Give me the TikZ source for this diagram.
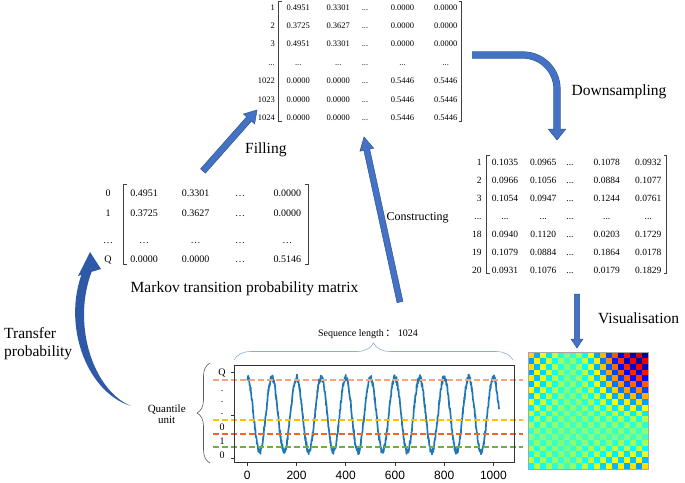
\documentclass[tikz,border=0pt]{standalone}
\usepackage{fontspec}
\setmainfont{Liberation Serif}
\newfontfamily\ticksf{Liberation Sans}
\newfontfamily\cjkf{Noto Sans CJK SC}
\usetikzlibrary{calc,decorations.pathreplacing}
\definecolor{arrfill}{HTML}{4472C4}
\definecolor{arrline}{HTML}{2F528F}
\definecolor{tpblue}{HTML}{2E59A6}
\definecolor{plotblue}{HTML}{1F77B4}
\definecolor{dsalmon}{HTML}{F4A582}
\definecolor{dyellow}{HTML}{FFC000}
\definecolor{dorange}{HTML}{F26522}
\definecolor{dgreen}{HTML}{70AD47}
\definecolor{bracelt}{HTML}{8FAADC}
\newcommand{\mdots}{...}
\newcommand{\blockarr}[5]{%
  \coordinate (ba-c) at ($(#2)!#5!(#1)$);
  \filldraw[blockarrow] ($(#1)!#3!90:(#2)$) -- ($(ba-c)!#3!-90:(#1)$) -- ($(ba-c)!#4!-90:(#1)$) -- (#2) -- ($(ba-c)!#4!90:(#1)$) -- ($(ba-c)!#3!90:(#1)$) -- ($(#1)!#3!-90:(#2)$) -- cycle;}
\begin{document}
\begin{tikzpicture}[x=1pt,y=-1pt,
  lbl/.style={inner sep=0pt, font=\fontsize{15.5}{18}\selectfont},
  tmcell/.style={inner sep=0pt, anchor=base, font=\fontsize{8.5}{10}\selectfont},
  lmcell/.style={inner sep=0pt, anchor=base, font=\fontsize{10}{12}\selectfont},
  rmcell/.style={inner sep=0pt, anchor=base, font=\fontsize{9.5}{11}\selectfont},
  brk/.style={line width=0.5pt, black!75},
  blockarrow/.style={fill=arrfill, draw=arrline, line width=0.5pt},
  dline/.style={line width=1.3pt, dash pattern=on 6pt off 3pt},
  tickm/.style={line width=0.6pt, black!80},
  xtl/.style={inner sep=0pt, anchor=base, font=\ticksf\fontsize{12}{14}\selectfont},
  ytl/.style={inner sep=0pt, anchor=base, font=\fontsize{10}{12}\selectfont}]
\useasboundingbox (0,0) rectangle (685,482);

% ---------- top matrix (1024 rows) ----------
\foreach \lab/\a/\b/\c/\d/\e [count=\r] in {1/0.4951/0.3301/\mdots/0.0000/0.0000,
  2/0.3725/0.3627/\mdots/0.0000/0.0000, 3/0.4951/0.3301/\mdots/0.0000/0.0000,
  \mdots/\mdots/\mdots/\mdots/\mdots/\mdots, 1022/0.0000/0.0000/\mdots/0.5446/0.5446,
  1023/0.0000/0.0000/\mdots/0.5446/0.5446, 1024/0.0000/0.0000/\mdots/0.5446/0.5446}{
  \pgfmathsetmacro\yy{10+18.4*(\r-1)}
  \node[tmcell, anchor=base east] (tm-\r-0) at (275,\yy) {\lab};
  \foreach \t/\xx [count=\k] in {\a/298.3,\b/338.3,\c/365,\d/402.5,\e/445.7}
    \node[tmcell] (tm-\r-\k) at (\xx,\yy) {\t};
}
\draw[brk] (281.5,1) -- (278.5,1) -- (278.5,121.5) -- (281.5,121.5);
\draw[brk] (458.5,1) -- (461.5,1) -- (461.5,121.5) -- (458.5,121.5);

% ---------- left matrix (Markov) ----------
\foreach \lab/\a/\b/\c/\d/\yy [count=\r] in {0/0.4951/0.3301/…/0.0000/196.3,
  1/0.3725/0.3627/…/0.0000/216.9, …/…/…/…/…/243, Q/0.0000/0.0000/…/0.5146/262.9}{
  \node[lmcell] (lm-\r-0) at (108,\yy) {\lab};
  \foreach \t/\xx [count=\k] in {\a/144,\b/195.7,\c/240,\d/287.3}
    \node[lmcell] (lm-\r-\k) at (\xx,\yy) {\t};
}
\draw[brk] (126.5,184) -- (123.3,184) -- (123.3,264.5) -- (126.5,264.5);
\draw[brk] (305,184) -- (308,184) -- (308,264.5) -- (305,264.5);
\node[lbl, anchor=base west] (markov) at (130.5,292) {Markov transition probability matrix};

% ---------- right matrix (20 rows) ----------
\foreach \lab/\a/\b/\c/\d/\e [count=\r] in {1/0.1035/0.0965/\mdots/0.1078/0.0932,
  2/0.0966/0.1056/\mdots/0.0884/0.1077, 3/0.1054/0.0947/\mdots/0.1244/0.0761,
  \mdots/\mdots/\mdots/\mdots/\mdots/\mdots, 18/0.0940/0.1120/\mdots/0.0203/0.1729,
  19/0.1079/0.0884/\mdots/0.1864/0.0178, 20/0.0931/0.1076/\mdots/0.0179/0.1829}{
  \pgfmathsetmacro\yy{165.3+18*(\r-1)}
  \node[rmcell, anchor=base east] (rm-\r-0) at (481.7,\yy) {\lab};
  \foreach \t/\xx [count=\k] in {\a/505,\b/543.3,\c/570,\d/606.7,\e/648.3}
    \node[rmcell] (rm-\r-\k) at (\xx,\yy) {\t};
}
\draw[brk] (489.7,155) -- (486.7,155) -- (486.7,273) -- (489.7,273);
\draw[brk] (663.7,155) -- (666.7,155) -- (666.7,273) -- (663.7,273);

% ---------- labels ----------
\node[lbl, anchor=base west] (filling) at (245,153) {Filling};
\node[inner sep=0pt, anchor=base west, font=\fontsize{12}{14}\selectfont] (constr) at (386.5,220) {Constructing};
\node[lbl, anchor=base west] (downs) at (571.5,95) {Downsampling};
\node[lbl, anchor=base west] (visu) at (598,323) {Visualisation};
\node[lbl, anchor=base west] (transf1) at (4,338) {Transfer};
\node[lbl, anchor=base west] (transf2) at (4,356) {probability};
\node[inner sep=0pt, anchor=base, font=\fontsize{11}{13}\selectfont] (quant1) at (166.7,412) {Quantile};
\node[inner sep=0pt, anchor=base, font=\fontsize{11}{13}\selectfont] (quant2) at (166.7,423.5) {unit};
\node[inner sep=0pt, anchor=base, font=\fontsize{10}{12}\selectfont] (seqlen) at (368,336.5) {Sequence length\,{\cjkf ：} 1024};

% ---------- arrows ----------
\coordinate (fillS) at (203,171); \coordinate (fillE) at (257,110);
\coordinate (conS) at (400,302); \coordinate (conE) at (364,137);
\coordinate (visS) at (577,294); \coordinate (visE) at (577,348);
\blockarr{fillS}{fillE}{3.2pt}{7.5pt}{12pt}
\blockarr{conS}{conE}{3pt}{7pt}{13pt}
\blockarr{visS}{visE}{2.6pt}{6pt}{9pt}

\coordinate (dsS) at (472,55); \coordinate (dsK) at (557,55);
\coordinate (dsB) at (557,129); \coordinate (dsE) at (557,140);
\draw[arrline, line width=7.2pt, rounded corners=34pt] (dsS) -- (dsK) -- (dsB);
\draw[arrfill, line width=6.2pt, rounded corners=34pt] (dsS) -- (dsK) -- (dsB);
\filldraw[blockarrow] (548.2,129) -- (dsE) -- (565.8,129) -- cycle;
\draw[arrfill, line width=6.2pt] (557,127) -- (557,130);

% transfer probability curved arrow
\fill[tpblue] (131,406) .. controls (85,392) and (60,320) .. (85,266)
   -- (94,266) .. controls (70,320) and (92,390) .. (131,406) -- cycle;
\fill[tpblue] (78,276) -- (90,252) -- (101,269) -- cycle;

% ---------- plot ----------
\draw[decorate, decoration={brace, amplitude=17pt}, bracelt, line width=0.6pt] (234,360) -- (513,360);
\draw[decorate, decoration={brace, amplitude=13pt}, black!65, line width=0.6pt] (210,463) -- (210,363);
\pgfmathsetseed{3}
\draw[plotblue, line width=1.7pt, line join=round] plot[domain=0:1024, samples=900]
   ({247.3+0.2461*\x}, {414.5-37*cos(3.6*\x)+3.2*rand});
\draw[dline, dsalmon] (213,380) -- (523,380);
\draw[dline, dyellow] (213,420) -- (523,420);
\draw[dline, dorange] (213,434) -- (523,434);
\draw[dline, dgreen] (213,447) -- (523,447);
\draw[line width=0.8pt, black!80] (234,365) rectangle (514,462);
\foreach \v [count=\k] in {0,200,400,600,800,1000}{
  \draw[tickm] ({247.3+0.2461*\v},462) -- ({247.3+0.2461*\v},465.5);
  \node[xtl] (xt-\k) at ({247.3+0.2461*\v},479.3) {\v};
}
\foreach \yy in {372,415,458} \draw[tickm] (234,\yy) -- (230.5,\yy);
\node[ytl] (yq) at (222,375.5) {Q};
\node[ytl] (yd1) at (222,391) {.};
\node[ytl] (yd2) at (222,402.7) {.};
\node[ytl] (yd3) at (222,414.3) {.};
\node[ytl] (y0a) at (222,430.7) {0};
\node[ytl] (y1) at (222,444) {1};
\node[ytl] (y0b) at (222,458.3) {0};

% ---------- heat map ----------
\foreach \i in {0,...,19}{
 \foreach \j in {0,...,19}{
  \pgfmathsetmacro\hrp{max(0,cos(6*(\i+1)))}
  \pgfmathsetmacro\hrn{max(0,-cos(6*(\i+1)))}
  \pgfmathsetmacro\hcp{max(0,cos(180*(19-\j)/26))}
  \pgfmathsetmacro\hcn{max(0,-cos(180*(19-\j)/26))}
  \pgfmathsetmacro\ha{0.03+0.42*(\hrp*\hcp)^1.8+0.25*\hrp*\hcn+0.32*\hrn*\hcp+0.2*\hrn*\hcn}
  \pgfmathsetmacro\hv{0.47+(1-2*mod(\i+\j,2))*\ha}
  \pgfmathsetmacro\hr{min(1,max(0,1.5-abs(4*\hv-3)))}
  \pgfmathsetmacro\hg{min(1,max(0,1.5-abs(4*\hv-2)))}
  \pgfmathsetmacro\hb{min(1,max(0,1.5-abs(4*\hv-1)))}
  \definecolor{hmc}{rgb}{\hr,\hg,\hb}
  \fill[hmc] (528+6*\j,352+5.85*\i) rectangle ++(6.05,5.9);
 }}
\draw[black!35, line width=0.4pt] (528,352) rectangle (648,469);
\end{tikzpicture}
\end{document}
